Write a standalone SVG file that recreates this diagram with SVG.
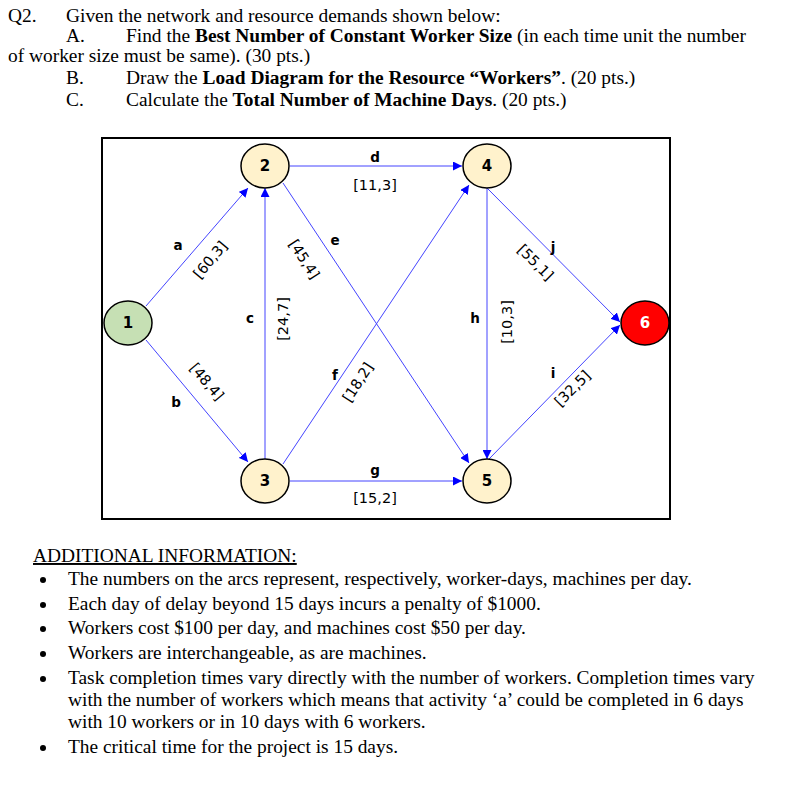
<svg xmlns="http://www.w3.org/2000/svg" width="793" height="793" viewBox="0 0 793 793">
<style>
.t{font-family:"Liberation Serif",serif;font-size:19.4px;fill:#000}
.n{stroke:#000;stroke-width:1.5}
.nl{font-family:"DejaVu Sans",sans-serif;font-weight:bold;font-size:15px;text-anchor:middle}
.el{font-family:"DejaVu Sans",sans-serif;font-weight:bold;font-size:13.5px;text-anchor:middle}
.w{font-family:"DejaVu Sans",sans-serif;font-size:14.5px;text-anchor:middle}
.c{stroke:#4444ff;stroke-width:1;fill:none;marker-end:url(#ar)}
</style>
<defs><marker id="ar" viewBox="0 0 10 10" refX="10" refY="5" markerWidth="9" markerHeight="9" markerUnits="userSpaceOnUse" orient="auto"><path d="M0,0L10,5L0,10z" fill="#0000ff"/></marker></defs>
<rect width="793" height="793" fill="#fff"/>
<g id="question">
<text class="t" x="8" y="22">Q2.</text><text class="t" x="66" y="22">Given the network and resource demands shown below:</text>
<text class="t" x="66" y="42">A.</text><text class="t" x="126" y="42">Find the <tspan font-weight="bold">Best Number of Constant Worker Size</tspan> (in each time unit the number</text>
<text class="t" x="8" y="62">of worker size must be same). (30 pts.)</text>
<text class="t" x="66" y="84">B.</text><text class="t" x="126" y="84">Draw the <tspan font-weight="bold">Load Diagram for the Resource “Workers”</tspan>. (20 pts.)</text>
<text class="t" x="66" y="106">C.</text><text class="t" x="126" y="106">Calculate the <tspan font-weight="bold">Total Number of Machine Days</tspan>. (20 pts.)</text>
</g>
<rect x="102" y="138" width="568" height="381" fill="none" stroke="#000" stroke-width="2"/>
<g id="connectors">
<line class="c" x1="146" y1="306" x2="248" y2="188"/>
<line class="c" x1="146" y1="340" x2="248" y2="462"/>
<line class="c" x1="265" y1="459" x2="265" y2="188"/>
<line class="c" x1="290" y1="166" x2="462" y2="166"/>
<line class="c" x1="283" y1="183" x2="469" y2="463"/>
<line class="c" x1="283" y1="464" x2="469" y2="185"/>
<line class="c" x1="290" y1="481" x2="462" y2="481"/>
<line class="c" x1="487" y1="188" x2="487" y2="459"/>
<line class="c" x1="487" y1="188" x2="620" y2="322"/>
<line class="c" x1="489" y1="459" x2="620" y2="325"/>
<text class="el" x="178" y="250">a</text><text class="w" transform="translate(214,263) rotate(-50)">[60,3]</text>
<text class="el" x="176" y="407">b</text><text class="w" transform="translate(203,385) rotate(50)">[48,4]</text>
<text class="el" x="250" y="323">c</text><text class="w" transform="translate(288,319) rotate(-90)">[24,7]</text>
<text class="el" x="375" y="162">d</text><text class="w" x="375" y="190">[11,3]</text>
<text class="el" x="335" y="245">e</text><text class="w" transform="translate(300,262) rotate(57)">[45,4]</text>
<text class="el" x="335" y="380">f</text><text class="w" transform="translate(362,385) rotate(-57)">[18,2]</text>
<text class="el" x="375" y="475">g</text><text class="w" x="375" y="503">[15,2]</text>
<text class="el" x="475" y="323">h</text><text class="w" transform="translate(512,322) rotate(-90)">[10,3]</text>
<text class="el" x="553" y="252">j</text><text class="w" transform="translate(532,266) rotate(45)">[55,1]</text>
<text class="el" x="553" y="378">i</text><text class="w" transform="translate(576,392) rotate(-45)">[32,5]</text>
</g>
<g id="n1"><ellipse class="n" cx="128" cy="323" rx="24" ry="22" fill="#c6e0b4"/><text class="nl" x="128" y="328">1</text></g>
<g id="n2"><ellipse class="n" cx="265" cy="166" rx="24" ry="22" fill="#fff2cc"/><text class="nl" x="265" y="171">2</text></g>
<g id="n3"><ellipse class="n" cx="265" cy="481" rx="24" ry="22" fill="#fff2cc"/><text class="nl" x="265" y="486">3</text></g>
<g id="n4"><ellipse class="n" cx="487" cy="166" rx="24" ry="22" fill="#fff2cc"/><text class="nl" x="487" y="171">4</text></g>
<g id="n5"><ellipse class="n" cx="487" cy="481" rx="24" ry="22" fill="#fff2cc"/><text class="nl" x="487" y="486">5</text></g>
<g id="n6"><ellipse class="n" cx="645" cy="323" rx="24" ry="22" fill="#ff0000"/><text class="nl" x="645" y="328" fill="#fff">6</text></g>
<g id="info">
<text class="t" x="33" y="562" text-decoration="underline">ADDITIONAL INFORMATION:</text>
<g><circle cx="43" cy="580" r="3"/><circle cx="43" cy="605" r="3"/><circle cx="43" cy="629" r="3"/><circle cx="43" cy="654" r="3"/><circle cx="43" cy="679" r="3"/><circle cx="43" cy="748" r="3"/></g>
<text class="t" x="68" y="585">The numbers on the arcs represent, respectively, worker-days, machines per day.</text>
<text class="t" x="68" y="610">Each day of delay beyond 15 days incurs a penalty of $1000.</text>
<text class="t" x="68" y="634">Workers cost $100 per day, and machines cost $50 per day.</text>
<text class="t" x="68" y="659">Workers are interchangeable, as are machines.</text>
<text class="t" x="68" y="684">Task completion times vary directly with the number of workers. Completion times vary</text>
<text class="t" x="68" y="706">with the number of workers which means that activity ‘a’ could be completed in 6 days</text>
<text class="t" x="68" y="728">with 10 workers or in 10 days with 6 workers.</text>
<text class="t" x="68" y="753">The critical time for the project is 15 days.</text>
</g>
</svg>
